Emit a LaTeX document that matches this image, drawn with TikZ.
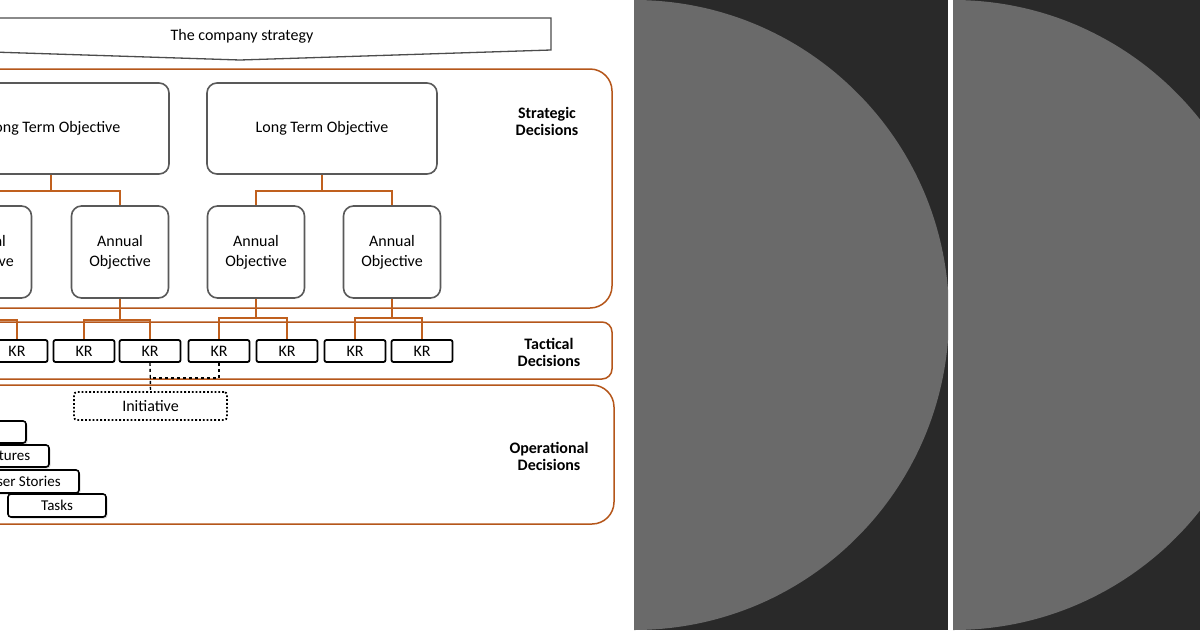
\documentclass[tikz,border=0pt]{standalone}
\usepackage{fontspec}
\setmainfont{Carlito}
\usetikzlibrary{shadows}
\definecolor{org}{HTML}{C0601E}
\definecolor{frm}{HTML}{B5561A}
\definecolor{dk}{HTML}{292929}
\definecolor{cg}{HTML}{6A6A6A}
\begin{document}
\begin{tikzpicture}[x=1pt,y=-1pt,
 frame/.style={draw=frm,line width=1.5pt,rounded corners=22pt},
 big/.style={draw=black!65,line width=1.6pt,rounded corners=10pt,align=center,font=\fontsize{16}{20}\selectfont},
 kr/.style={draw=black,line width=1.8pt,rounded corners=2pt,minimum width=61pt,minimum height=22pt,inner sep=0pt,font=\fontsize{16}{18}\selectfont},
 stk/.style={draw=black,line width=1.6pt,rounded corners=3pt,fill=white,drop shadow={opacity=0.3,shadow xshift=1.5pt,shadow yshift=-1.5pt},inner sep=0pt,font=\fontsize{15}{17}\selectfont},
 con/.style={draw=org,line width=1.4pt},
 lab/.style={font=\bfseries\fontsize{16}{19}\selectfont,align=center}]
\useasboundingbox (0,0) rectangle (1200,630);
\begin{scope}
\clip (0,0) rectangle (1200,630);
\fill[white] (0,0) rectangle (1200,630);
% banner
\draw[black!70,line width=1.3pt] (-70,18) -- (551,18) -- (551,50) -- (240,60) -- (-70,50) -- cycle;
\node[font=\fontsize{16}{19}\selectfont] (strat) at (242,36) {The company strategy};
% frames
\draw[frame] (-60,69) rectangle (612,308);
\draw[frame,rounded corners=10pt] (-60,322) rectangle (612,379);
\draw[frame] (-60,385) rectangle (614,524);
\node[lab] (sd) at (547,121) {Strategic\\[-2pt]Decisions};
\node[lab] (td) at (549,352) {Tactical\\[-2pt]Decisions};
\node[lab] (od) at (549,456) {Operational\\[-2pt]Decisions};
% LTO
\node[big,minimum width=230pt,minimum height=91pt] (l1) at (54,128.5) {Long Term Objective};
\node[big,minimum width=230pt,minimum height=91pt] (l2) at (322,128.5) {Long Term Objective};
% AO
\foreach \n/\x in {a0/-17,a1/120,a2/256,a3/392}
 \node[big,minimum width=97pt,minimum height=92pt] (\n) at (\x,252) {Annual\\Objective};
\draw[con] (l1.south) ++(-3,0) -- (51,191) -| (a1.north);
\draw[con] (51,191) -| (a0.north);
\draw[con] (l2.south) -- (322,191) -| (a2.north);
\draw[con] (322,191) -| (a3.north);
% KR
\foreach \n/\x in {k0/17,k1/84,k2/150,k3/219,k4/287,k5/355,k6/422}
 \node[kr] (\n) at (\x,351) {KR};
\draw[con] (a1.south) -- (120,320) -| (k1.north);
\draw[con] (120,320) -| (k2.north);
\draw[con] (a2.south) -- (256,318) -| (k3.north);
\draw[con] (256,318) -| (k4.north);
\draw[con] (a3.south) -- (392,318) -| (k5.north);
\draw[con] (392,318) -| (k6.north);
\draw[con] (a0.south) -- (-17,320) -| (k0.north);
% initiative
\node[draw=black,line width=1.8pt,dotted,rounded corners=3pt,minimum width=153pt,minimum height=28pt,font=\fontsize{16}{18}\selectfont] (ini) at (150.5,406) {Initiative};
\draw[dashed,line width=1.4pt] (k2.south) -- (ini.north);
\draw[dashed,line width=1.4pt] (k3.south) -- (219,378) -- (150,378);
% stacked
\node[stk,minimum width=80pt,minimum height=22pt] (s1) at (-14,432) {};
\node[stk,minimum width=90pt,minimum height=22pt] (s2) at (4,456) {Features};
\node[stk,minimum width=110pt,minimum height=23pt] (s3) at (24,481.5) {User Stories};
\node[stk,minimum width=98pt,minimum height=23pt] (s4) at (57,505.5) {Tasks};
% right panels
\fill[dk] (634,0) rectangle (948,630);
\begin{scope}\clip (634,0) rectangle (948,630);
\fill[cg] (634,315) circle (315);\end{scope}
\fill[dk] (953,0) rectangle (1200,630);
\begin{scope}\clip (953,0) rectangle (1200,630);
\fill[cg] (953,315) circle (315);\end{scope}
\end{scope}
\end{tikzpicture}
\end{document}
